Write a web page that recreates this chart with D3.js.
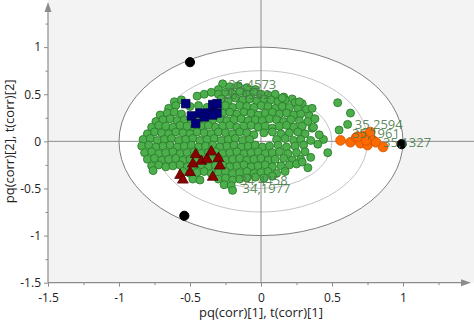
<!DOCTYPE html>
<html><head><meta charset="utf-8">
<script src="https://cdn.jsdelivr.net/npm/d3@7"></script>
<style>body{margin:0;background:#fff}svg{display:block}</style>
</head><body><svg id="c" width="474" height="325"></svg>
<script>
const greenPoints = [
[-0.27,0.61],[-0.22,0.58],[-0.16,0.59],[-0.10,0.57],[-0.04,0.55],[-0.30,0.55],
[-0.45,0.48],[-0.40,0.50],[-0.35,0.52],[-0.30,0.50],[-0.25,0.52],[-0.20,0.51],[-0.15,0.53],[-0.10,0.50],[-0.05,0.52],[0.00,0.50],[0.05,0.49],[0.10,0.50],[0.16,0.47],[0.22,0.45],
[-0.61,0.42],[-0.56,0.44],[-0.28,0.45],[-0.23,0.43],[-0.18,0.46],[-0.13,0.44],[-0.08,0.45],[-0.03,0.43],[0.02,0.45],[0.07,0.44],[0.12,0.42],[0.17,0.44],[0.24,0.41],[0.29,0.40],
[-0.65,0.35],[-0.60,0.38],[-0.50,0.37],[-0.44,0.38],[-0.38,0.36],[-0.30,0.36],[-0.25,0.38],[-0.20,0.36],[-0.15,0.38],[-0.10,0.37],[-0.05,0.36],[0.00,0.38],[0.05,0.37],[0.10,0.35],[0.15,0.37],[0.20,0.36],[0.26,0.35],[0.32,0.34],
[-0.71,0.28],[-0.66,0.30],[-0.61,0.31],[-0.56,0.29],[-0.36,0.31],[-0.27,0.30],[-0.22,0.31],[-0.17,0.29],[-0.12,0.31],[-0.07,0.30],[-0.02,0.28],[0.03,0.30],[0.08,0.31],[0.13,0.29],[0.18,0.30],[0.23,0.28],[0.28,0.29],[0.34,0.27],
[-0.74,0.21],[-0.69,0.23],[-0.64,0.24],[-0.59,0.22],[-0.54,0.23],[-0.49,0.24],[-0.44,0.22],[-0.39,0.21],[-0.34,0.23],[-0.29,0.24],[-0.24,0.22],[-0.19,0.23],[-0.14,0.24],[-0.09,0.22],[-0.04,0.23],[0.01,0.22],[0.06,0.24],[0.11,0.23],[0.16,0.21],[0.21,0.23],[0.27,0.22],[0.33,0.21],[0.38,0.24],
[-0.77,0.15],[-0.72,0.17],[-0.67,0.16],[-0.62,0.15],[-0.57,0.17],[-0.52,0.16],[-0.47,0.14],[-0.42,0.16],[-0.37,0.17],[-0.32,0.15],[-0.27,0.16],[-0.22,0.17],[-0.17,0.15],[-0.12,0.16],[-0.07,0.17],[-0.02,0.15],[0.03,0.16],[0.08,0.14],[0.13,0.16],[0.18,0.17],[0.23,0.15],[0.29,0.16],[0.36,0.14],
[-0.80,0.08],[-0.75,0.10],[-0.70,0.09],[-0.65,0.08],[-0.60,0.10],[-0.55,0.09],[-0.50,0.08],[-0.45,0.10],[-0.40,0.09],[-0.35,0.08],[-0.30,0.10],[-0.25,0.09],[-0.20,0.08],[-0.15,0.10],[-0.10,0.09],[-0.05,0.07],[0.02,0.09],[0.08,0.10],[0.14,0.08],[0.20,0.09],[0.26,0.10],[0.31,0.08],
[-0.83,0.02],[-0.78,0.03],[-0.73,0.01],[-0.68,0.02],[-0.63,0.03],[-0.58,0.01],[-0.53,0.02],[-0.48,0.03],[-0.43,0.01],[-0.38,0.02],[-0.33,0.03],[-0.28,0.01],[-0.23,0.02],[-0.18,0.03],[-0.13,0.01],[-0.08,0.02],[0.11,0.02],[0.17,0.03],[0.23,0.01],[0.28,0.02],[0.35,0.01],
[-0.84,-0.05],[-0.79,-0.04],[-0.74,-0.06],[-0.69,-0.05],[-0.64,-0.04],[-0.59,-0.06],[-0.54,-0.05],[-0.49,-0.04],[-0.44,-0.06],[-0.39,-0.05],[-0.34,-0.04],[-0.29,-0.06],[-0.24,-0.05],[-0.19,-0.04],[-0.14,-0.06],[-0.09,-0.05],[-0.04,-0.04],[0.01,-0.06],[0.06,-0.05],[0.12,-0.04],[0.18,-0.06],[0.24,-0.05],[0.30,-0.04],
[-0.82,-0.12],[-0.77,-0.11],[-0.72,-0.13],[-0.67,-0.12],[-0.62,-0.11],[-0.57,-0.13],[-0.52,-0.12],[-0.47,-0.11],[-0.42,-0.13],[-0.37,-0.12],[-0.32,-0.11],[-0.27,-0.13],[-0.22,-0.12],[-0.17,-0.11],[-0.12,-0.13],[-0.07,-0.12],[-0.02,-0.11],[0.03,-0.13],[0.08,-0.12],[0.13,-0.11],[0.19,-0.13],[0.25,-0.12],[0.31,-0.11],
[-0.80,-0.19],[-0.75,-0.18],[-0.70,-0.20],[-0.65,-0.19],[-0.60,-0.18],[-0.55,-0.20],[-0.50,-0.19],[-0.45,-0.18],[-0.40,-0.20],[-0.35,-0.19],[-0.30,-0.18],[-0.25,-0.20],[-0.20,-0.19],[-0.15,-0.18],[-0.10,-0.20],[-0.05,-0.19],[0.00,-0.18],[0.05,-0.20],[0.10,-0.19],[0.16,-0.18],[0.22,-0.20],[0.28,-0.19],
[-0.77,-0.26],[-0.72,-0.25],[-0.67,-0.27],[-0.62,-0.26],[-0.57,-0.25],[-0.52,-0.27],[-0.47,-0.26],[-0.42,-0.25],[-0.37,-0.27],[-0.32,-0.26],[-0.27,-0.25],[-0.22,-0.27],[-0.17,-0.26],[-0.12,-0.25],[-0.07,-0.27],[-0.02,-0.26],[0.03,-0.25],[0.08,-0.27],[0.14,-0.26],[0.20,-0.25],[0.25,-0.24],
[-0.76,-0.31],[-0.55,-0.32],[-0.50,-0.34],[-0.45,-0.33],[-0.40,-0.32],[-0.35,-0.34],[-0.30,-0.33],[-0.25,-0.32],[-0.20,-0.34],[-0.15,-0.33],[-0.10,-0.32],[-0.05,-0.34],[0.00,-0.33],[0.05,-0.32],[0.11,-0.34],[0.17,-0.32],
[-0.48,-0.40],[-0.43,-0.41],[-0.30,-0.40],[-0.25,-0.39],[-0.20,-0.41],[-0.15,-0.40],[-0.10,-0.39],[-0.04,-0.38],[0.02,-0.39],[0.08,-0.37],
[-0.26,-0.46],[-0.21,-0.47],[-0.20,-0.52],
[0.54,0.41],[0.63,0.30],[0.61,0.18],[0.55,0.12],[0.47,-0.12],[0.44,0.02],[0.37,0.15],[0.36,0.35],[0.41,0.07],[0.35,-0.17],[0.29,-0.22],[0.40,-0.03],[0.33,-0.28],[0.15,0.46],[0.27,0.42]
];
const bluePoints = [[-0.53,0.40],[-0.49,0.27],[-0.46,0.19],[-0.43,0.30],[-0.40,0.26],[-0.37,0.30],[-0.34,0.39],[-0.31,0.40],[-0.31,0.30],[-0.34,0.28]];
const redPoints = [[-0.57,-0.36],[-0.55,-0.41],[-0.50,-0.33],[-0.48,-0.24],[-0.46,-0.14],[-0.42,-0.21],[-0.38,-0.19],[-0.35,-0.11],[-0.30,-0.18],[-0.29,-0.26],[-0.34,-0.38]];
const orangePoints = [[0.56,0.01],[0.63,-0.01],[0.67,0.04],[0.70,-0.02],[0.72,0.06],[0.75,-0.04],[0.77,0.10],[0.79,0.01],[0.81,-0.01],[0.86,-0.06],[0.74,0.01],[0.68,0.05]];
const blackPoints = [[-0.50,0.84],[-0.54,-0.79],[0.99,-0.03]];
const labelTexts = ["26,4573","26,4582","34,4458","34,1977","35,2594","35,1961","35,1327"];
const labelX = [-0.23,-0.27,-0.15,-0.13,0.66,0.64,0.86];
const labelY = [0.555,0.45,-0.46,-0.55,0.13,0.035,-0.06];
const ellipseRadii = [0.5,0.75,1];
const xTicks = [-1.5,-1,-0.5,0,0.5,1];
const yTicks = [-1.5,-1,-0.5,0,0.5,1];
const minorTicks = [-1.25,-0.75,-0.25,0.25,0.75,1.25];

const svg = d3.select("#c");
const x = d3.scaleLinear().domain([-1.5,1.5]).range([48,474]);
const y = d3.scaleLinear().domain([-1.5,1.5]).range([282.7,0]);
const axisColor = "#8c8c8c";

svg.append("rect").attr("x",x(-1.5)).attr("y",y(1.5)).attr("width",x(1.5)-x(-1.5)).attr("height",y(-1.5)-y(1.5)).attr("fill","#f3f3f3");

svg.append("ellipse").attr("cx",x(0)).attr("cy",y(0)).attr("rx",x(1)-x(0)).attr("ry",y(0)-y(1)).attr("fill","#fff");
svg.selectAll("ellipse.r").data(ellipseRadii).enter().append("ellipse")
  .attr("cx",x(0)).attr("cy",y(0))
  .attr("rx",d=>x(d)-x(0)).attr("ry",d=>y(0)-y(d))
  .attr("fill","none")
  .attr("stroke",d=>d===1?"#808080":"#c4c4c8").attr("stroke-width",1);

svg.append("line").attr("x1",x(-1.5)).attr("x2",x(1.5)).attr("y1",y(0)).attr("y2",y(0)).attr("stroke",axisColor).attr("stroke-width",1);
svg.append("line").attr("x1",x(0)).attr("x2",x(0)).attr("y1",y(1.5)).attr("y2",y(-1.5)).attr("stroke",axisColor).attr("stroke-width",1);

const font = "'Open Sans', 'Noto Sans', sans-serif";
const gx = svg.append("g").attr("transform",`translate(0,${y(-1.5)})`)
  .call(d3.axisBottom(x).tickValues(xTicks).tickSize(4).tickPadding(7).tickFormat(d=>String(d)));
gx.select(".domain").remove();
gx.selectAll(".tick line").attr("stroke",axisColor);
gx.selectAll(".tick text").attr("fill","#222").style("font-family",font).style("font-size","12px");
const gxm = svg.append("g").attr("transform",`translate(0,${y(-1.5)})`)
  .call(d3.axisBottom(x).tickValues(minorTicks).tickSize(2.5).tickFormat(""));
gxm.select(".domain").remove();
gxm.selectAll(".tick line").attr("stroke",axisColor);
svg.append("line").attr("x1",x(-1.5)).attr("x2",463).attr("y1",y(-1.5)).attr("y2",y(-1.5)).attr("stroke",axisColor).attr("stroke-width",1.2);
svg.append("path").attr("d",`M471,${y(-1.5)} L461,${y(-1.5)-3.5} L461,${y(-1.5)+3.5} Z`).attr("fill",axisColor);

const gy = svg.append("g").attr("transform",`translate(${x(-1.5)},0)`)
  .call(d3.axisLeft(y).tickValues(yTicks).tickSize(4).tickPadding(3).tickFormat(d=>String(d)));
gy.select(".domain").remove();
gy.selectAll(".tick line").attr("stroke",axisColor);
gy.selectAll(".tick text").attr("fill","#222").style("font-family",font).style("font-size","12px");
const gym = svg.append("g").attr("transform",`translate(${x(-1.5)},0)`)
  .call(d3.axisLeft(y).tickValues(minorTicks).tickSize(2.5).tickFormat(""));
gym.select(".domain").remove();
gym.selectAll(".tick line").attr("stroke",axisColor);
svg.append("line").attr("x1",x(-1.5)).attr("x2",x(-1.5)).attr("y1",y(-1.5)).attr("y2",10).attr("stroke",axisColor).attr("stroke-width",1.2);
svg.append("path").attr("d",`M${x(-1.5)},2 L${x(-1.5)-3.5},12 L${x(-1.5)+3.5},12 Z`).attr("fill",axisColor);

svg.append("text").attr("x",x(0)).attr("y",317).attr("text-anchor","middle")
  .style("font-family",font).style("font-size","13px").attr("fill","#222").text("pq(corr)[1], t(corr)[1]");
svg.append("text").attr("transform",`translate(14,${y(0)}) rotate(-90)`).attr("text-anchor","middle")
  .style("font-family",font).style("font-size","13px").attr("fill","#222").text("pq(corr)[2], t(corr)[2]");

svg.append("g").selectAll("circle").data(greenPoints).enter().append("circle")
  .attr("cx",d=>x(d[0])).attr("cy",d=>y(d[1])).attr("r",4)
  .attr("fill","#4caf4c").attr("stroke","#2b7d2b").attr("stroke-width",0.9);
svg.append("g").selectAll("path").data(bluePoints).enter().append("path")
  .attr("d",d3.symbol().type(d3.symbolSquare).size(72))
  .attr("transform",d=>`translate(${x(d[0])},${y(d[1])})`)
  .attr("fill","#00007f").attr("stroke","#000050").attr("stroke-width",0.8);
svg.append("g").selectAll("path").data(redPoints).enter().append("path")
  .attr("d",d3.symbol().type(d3.symbolTriangle).size(50))
  .attr("transform",d=>`translate(${x(d[0])},${y(d[1])})`)
  .attr("fill","#8a0000").attr("stroke","#550000").attr("stroke-width",0.8);
svg.append("g").selectAll("circle").data(orangePoints).enter().append("circle")
  .attr("cx",d=>x(d[0])).attr("cy",d=>y(d[1])).attr("r",4.8)
  .attr("fill","#ff6a00").attr("stroke","#d45500").attr("stroke-width",0.9);
svg.append("g").selectAll("circle").data(blackPoints).enter().append("circle")
  .attr("cx",d=>x(d[0])).attr("cy",d=>y(d[1])).attr("r",4.6)
  .attr("fill","#000").attr("stroke","#000");

svg.append("g").selectAll("text").data(labelTexts).enter().append("text")
  .attr("x",(d,i)=>x(labelX[i])).attr("y",(d,i)=>y(labelY[i]))
  .style("font-family",font).style("font-size","13px")
  .attr("fill","#4a7a4a").attr("fill-opacity",0.9).text(d=>d);
</script>
</body></html>
